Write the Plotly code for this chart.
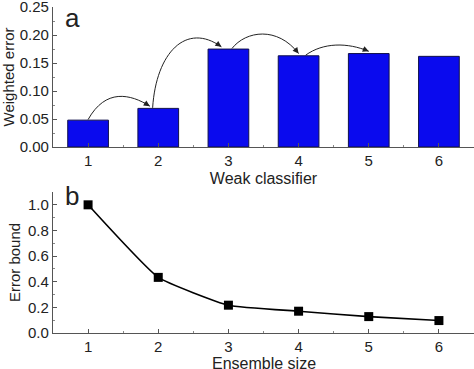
import plotly.graph_objects as go
from plotly.subplots import make_subplots

classifiers = [1, 2, 3, 4, 5, 6]
weighted_error = [0.048, 0.069, 0.175, 0.163, 0.167, 0.162]
ensemble_size = [1, 2, 3, 4, 5, 6]
error_bound = [1.0, 0.434, 0.217, 0.170, 0.128, 0.097]
top_ticks = [0.0, 0.05, 0.10, 0.15, 0.20, 0.25]
bottom_ticks = [0.0, 0.2, 0.4, 0.6, 0.8, 1.0]

fig = make_subplots(rows=2, cols=1, vertical_spacing=0.14, shared_xaxes=False)

fig.add_trace(go.Bar(x=classifiers, y=weighted_error, width=0.58,
                     marker=dict(color="#0a0aee", line=dict(color="#10104a", width=1)),
                     showlegend=False), row=1, col=1)
fig.add_trace(go.Scatter(x=ensemble_size, y=error_bound, mode="lines+markers",
                         line=dict(color="black", width=1.6, shape="spline", smoothing=0.4),
                         marker=dict(symbol="square", size=9, color="black"),
                         showlegend=False), row=2, col=1)

FAM = "Liberation Sans, Arial, sans-serif"
font = dict(family=FAM, size=15, color="#222")
axis_common = dict(showline=True, linecolor="#555", linewidth=1.3, ticks="inside",
                   ticklen=4, tickcolor="#555", showgrid=False, zeroline=False,
                   tickfont=font, mirror=False, automargin=False, ticklabeloverflow="allow")
fig.update_xaxes(**axis_common, range=[0.5, 6.5], tickvals=classifiers,
                 minor=dict(ticks="inside", ticklen=2, tickcolor="#888", dtick=0.5, tick0=0.5))
fig.update_xaxes(title=dict(text="Weak classifier", font=dict(size=16, family=FAM, color="#222"), standoff=4), row=1, col=1)
fig.update_yaxes(**axis_common)
fig.update_yaxes(range=[0, 0.2502], tickvals=top_ticks, tickformat=".2f",
                 minor=dict(ticks="inside", ticklen=2, tickcolor="#888", dtick=0.025),
                 title=dict(text="Weighted error", font=dict(size=15, family=FAM, color="#222"), standoff=3),
                 row=1, col=1)
fig.update_yaxes(range=[0, 1.1], tickvals=bottom_ticks, tickformat=".1f",
                 minor=dict(ticks="inside", ticklen=2, tickcolor="#888", dtick=0.1),
                 title=dict(text="Error bound", font=dict(size=15, family=FAM, color="#222"), standoff=3),
                 row=2, col=1)
fig.update_layout(
    yaxis=dict(domain=[0.5706, 1.0]),
    yaxis2=dict(domain=[0.0, 0.4325]),
)

# curved arrows between consecutive bars, derived from the bar values
shapes = []
annotations = []
arc_specs = [
    (0, 0.0, -0.12, (0.25, 0.032), (0.6, 0.022)),
    (1, -0.08, -0.1, (0.05, -0.01), (0.48, 0.045)),
    (2, 0.05, 0.0, (0.2, 0.032), (0.65, 0.04)),
    (3, 0.1, 0.0, (0.25, 0.016), (0.6, 0.016)),
]
for i, sx, ex, c1, c2 in arc_specs:
    x0 = classifiers[i] + sx
    y0 = weighted_error[i] + 0.001
    x1 = classifiers[i + 1] + ex
    y1 = weighted_error[i + 1] + 0.004
    top = max(y0, y1)
    c1x, c1y = x0 + c1[0], top + c1[1]
    c2x, c2y = x0 + c2[0], top + c2[1]
    shapes.append(dict(type="path", xref="x", yref="y",
                       path=f"M {x0},{y0} C {c1x},{c1y} {c2x},{c2y} {x1},{y1}",
                       line=dict(color="#222", width=1)))
    dx, dy = x1 - c2x, y1 - c2y
    px, py = dx * 70.4, -dy * 560
    n = (px ** 2 + py ** 2) ** 0.5
    annotations.append(dict(x=x1, y=y1, xref="x", yref="y", text="", showarrow=True,
                            arrowhead=2, arrowsize=1, arrowwidth=1.2, arrowcolor="#222",
                            ax=-px / n * 8, ay=-py / n * 8))

annotations.append(dict(x=0.0, y=1.0, xref="paper", yref="paper", xanchor="left", yanchor="top",
                        text="a", showarrow=False, xshift=10, yshift=6,
                        font=dict(size=26, family=FAM, color="#222")))
annotations.append(dict(x=0.0, y=0.4325, xref="paper", yref="paper", xanchor="left", yanchor="top",
                        text="b", showarrow=False, xshift=10, yshift=13,
                        font=dict(size=26, family=FAM, color="#222")))
annotations.append(dict(x=0.5, y=0.0, xref="paper", yref="paper", xanchor="center", yanchor="middle",
                        text="Ensemble size", showarrow=False, yshift=-30,
                        font=dict(size=16, family=FAM, color="#222")))

fig.update_layout(width=474, height=369, margin=dict(l=53, r=0, t=7, b=36),
                  paper_bgcolor="white", plot_bgcolor="white",
                  shapes=shapes, annotations=annotations, bargap=0.4)

fig.write_html("out.html", config={"displayModeBar": False},
               post_script="document.body.style.margin='0';")
